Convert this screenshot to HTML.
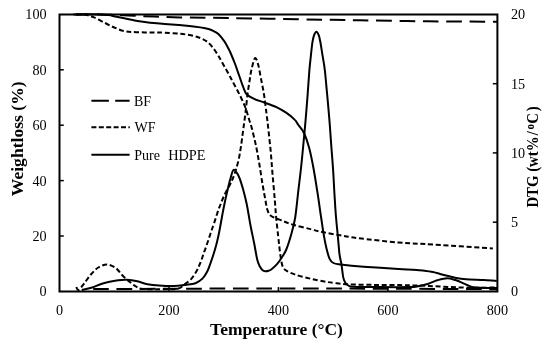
<!DOCTYPE html>
<html><head><meta charset="utf-8"><title>TGA DTG chart</title>
<style>html,body{margin:0;padding:0;background:#fff}body{width:550px;height:347px;position:relative;overflow:hidden}</style>
</head><body>
<svg width="550" height="347" viewBox="0 0 550 347" style="position:absolute;left:0;top:0">
<g fill="none" stroke="#000" stroke-linejoin="round">
<path d="M73.5 14.4C77.9 14.4 93.0 14.3 100.0 14.4C107.0 14.5 109.9 14.7 115.7 14.9C121.5 15.1 128.6 15.5 135.0 15.8C141.4 16.1 146.8 16.3 154.3 16.6C161.8 16.9 167.4 17.1 180.0 17.4C192.6 17.6 210.0 17.8 230.0 18.1C250.0 18.4 278.3 18.9 300.0 19.3C321.7 19.7 338.7 20.0 360.0 20.3C381.3 20.6 405.2 21.1 428.0 21.3C450.8 21.5 485.5 21.6 497.0 21.7" stroke-width="2" stroke-dasharray="15.6 7.7"/>
<path d="M93.2 289.0C99.3 289.0 115.5 289.1 130.0 289.0C144.5 288.9 151.7 288.8 180.0 288.7C208.3 288.6 263.3 288.5 300.0 288.5C336.7 288.5 367.2 288.7 400.0 288.8C432.8 288.9 480.8 289.1 497.0 289.2" stroke-width="2" stroke-dasharray="15.6 7.7"/>
<path d="M76.0 14.4C77.2 14.4 81.5 14.3 83.5 14.5C85.5 14.7 86.3 14.9 88.0 15.4C89.7 15.9 91.2 16.2 93.9 17.4C96.6 18.6 100.7 20.8 104.1 22.5C107.5 24.2 110.9 26.1 114.3 27.5C117.7 28.9 120.9 30.4 124.5 31.2C128.1 32.0 131.1 32.0 136.1 32.2C141.1 32.4 149.6 32.4 154.3 32.5C159.0 32.6 160.4 32.5 164.5 32.7C168.6 32.9 174.7 33.3 179.1 33.7C183.5 34.1 187.3 34.6 190.7 35.3C194.1 36.0 196.8 36.7 199.5 37.7C202.2 38.7 204.5 39.8 206.7 41.4C208.9 43.0 210.7 45.0 212.5 47.2C214.3 49.4 216.0 52.1 217.6 54.5C219.2 56.9 219.9 58.4 221.8 61.8C223.7 65.2 227.4 71.8 229.1 74.9C230.8 78.0 230.3 77.0 232.0 80.3C233.7 83.6 237.3 90.0 239.5 94.5C241.7 99.0 243.8 103.5 245.4 107.6C247.0 111.7 248.0 116.1 249.0 119.3C250.0 122.5 250.3 122.4 251.5 127.0C252.7 131.6 254.9 140.5 256.2 146.8C257.5 153.1 258.4 158.7 259.5 165.0C260.6 171.3 261.6 178.9 262.6 184.7C263.6 190.5 264.6 195.8 265.4 200.0C266.2 204.2 266.5 207.5 267.5 210.2C268.5 212.9 268.9 214.3 271.2 216.0C273.5 217.7 277.8 219.0 281.4 220.4C285.0 221.8 288.1 223.2 293.0 224.7C297.9 226.1 305.4 227.8 310.5 229.1C315.6 230.4 318.6 231.3 323.5 232.3C328.4 233.3 334.5 234.3 340.2 235.3C345.9 236.3 348.2 236.9 357.9 238.1C367.6 239.3 385.9 241.4 398.6 242.5C411.3 243.6 418.6 243.6 434.3 244.6C450.0 245.6 483.1 247.8 492.8 248.4" stroke-width="2" stroke-dasharray="5 2.7"/>
<path d="M76.0 285.6C76.4 286.3 77.0 290.5 78.5 290.0C80.0 289.5 82.6 285.4 84.7 282.7C86.8 280.0 89.0 276.5 91.3 274.0C93.6 271.5 95.6 269.1 98.3 267.5C101.0 265.9 104.2 264.4 107.2 264.5C110.2 264.6 113.5 266.4 116.0 268.2C118.5 270.0 120.2 273.2 122.5 275.5C124.8 277.8 127.6 280.2 129.8 282.0C132.0 283.8 133.8 285.3 135.8 286.4C137.8 287.5 137.6 288.3 141.6 288.8C145.6 289.3 153.9 289.2 160.0 289.2C166.1 289.2 174.0 289.3 178.0 288.6C182.0 287.9 181.6 286.5 183.8 284.9C186.0 283.3 188.9 281.5 191.1 279.1C193.3 276.7 195.3 273.2 196.9 270.4C198.5 267.6 199.4 265.1 200.5 262.5C201.6 259.9 202.4 257.1 203.3 254.5C204.2 251.9 205.1 249.7 206.0 247.0C206.9 244.3 208.0 241.2 208.9 238.5C209.8 235.8 210.5 233.5 211.3 231.0C212.2 228.5 212.8 227.1 214.0 223.5C215.2 219.9 217.4 212.7 218.5 209.5C219.6 206.3 219.6 206.8 220.5 204.5C221.4 202.2 222.6 198.8 224.2 195.5C225.8 192.2 228.4 187.6 229.9 184.7C231.4 181.8 232.0 180.4 233.0 178.0C234.0 175.6 234.8 173.2 235.7 170.2C236.6 167.2 237.7 163.9 238.6 160.0C239.5 156.1 240.1 151.8 240.9 146.8C241.7 141.8 242.4 135.6 243.2 130.0C243.9 124.5 244.7 119.4 245.4 113.5C246.1 107.6 246.8 100.1 247.5 94.5C248.2 88.9 249.0 84.2 249.7 80.0C250.4 75.8 250.7 72.7 251.6 69.1C252.5 65.5 253.9 58.9 255.0 58.2C256.1 57.5 257.2 61.2 258.2 64.7C259.2 68.2 260.1 74.3 261.1 79.3C262.1 84.3 263.1 88.8 264.0 94.5C264.9 100.2 265.8 108.1 266.5 113.5C267.2 118.9 267.4 120.7 268.1 127.0C268.8 133.3 269.9 143.2 270.7 151.2C271.4 159.2 271.9 166.9 272.6 175.0C273.3 183.1 274.2 192.7 274.8 200.0C275.4 207.3 275.7 212.8 276.3 218.9C276.9 225.0 277.7 231.7 278.2 236.4C278.7 241.1 279.0 243.6 279.4 247.0C279.8 250.4 280.0 253.3 280.6 256.6C281.2 259.9 281.7 264.4 282.8 266.8C283.9 269.2 285.0 269.9 287.2 271.2C289.4 272.5 292.0 273.6 295.9 274.8C299.8 276.1 305.8 277.6 310.5 278.7C315.2 279.8 320.3 280.8 324.3 281.5C328.3 282.2 330.4 282.5 334.5 283.0C338.6 283.5 342.4 284.1 349.1 284.4C355.9 284.7 366.5 284.8 375.0 284.9C383.5 285.0 392.5 285.0 400.0 285.1C407.5 285.2 413.3 285.4 420.0 285.6C426.7 285.8 433.3 286.2 440.0 286.5C446.7 286.8 453.3 287.3 460.0 287.5C466.7 287.7 473.8 287.7 480.0 287.7C486.2 287.7 494.2 287.5 497.0 287.5" stroke-width="2" stroke-dasharray="5 2.7" stroke-dashoffset="6.3"/>
<path d="M76.0 14.4C80.0 14.4 94.6 14.3 100.0 14.4C105.4 14.5 106.0 14.8 108.5 15.1C111.0 15.4 112.6 15.9 115.0 16.4C117.4 16.9 119.2 17.3 123.0 18.1C126.8 18.9 133.0 20.2 137.5 21.0C142.0 21.8 145.5 22.2 150.0 22.7C154.5 23.2 159.7 23.5 164.5 23.9C169.3 24.3 174.2 24.7 179.1 25.1C183.9 25.5 189.2 26.0 193.6 26.5C198.0 27.0 202.2 27.6 205.3 28.3C208.5 29.0 210.3 29.5 212.5 30.5C214.7 31.5 216.5 32.3 218.4 34.1C220.3 35.9 222.7 39.1 224.2 41.2C225.7 43.3 226.4 44.8 227.5 46.8C228.6 48.8 229.4 50.2 230.6 53.0C231.8 55.8 233.4 59.7 234.9 63.5C236.4 67.3 237.9 72.1 239.3 76.0C240.7 79.9 241.9 83.9 243.2 87.0C244.4 90.1 245.0 92.5 246.8 94.5C248.6 96.5 251.2 97.6 254.1 98.9C257.0 100.2 260.7 101.2 264.3 102.5C267.9 103.8 272.3 105.2 275.9 106.9C279.5 108.6 283.0 110.6 286.1 112.7C289.2 114.8 292.6 117.5 294.6 119.6C296.7 121.6 296.8 122.7 298.4 125.0C300.0 127.3 302.3 129.4 304.1 133.2C305.9 137.0 307.6 141.9 309.2 148.0C310.8 154.1 312.4 162.2 313.8 170.0C315.2 177.8 316.6 187.0 317.8 194.7C319.0 202.4 319.9 209.5 320.9 216.0C321.9 222.5 322.7 228.5 323.6 233.9C324.5 239.3 325.5 244.4 326.5 248.5C327.5 252.6 328.4 256.2 329.5 258.6C330.6 261.0 331.6 262.0 333.4 263.0C335.2 264.0 335.4 263.9 340.4 264.5C345.4 265.1 353.9 266.0 363.6 266.7C373.3 267.4 389.7 268.3 398.6 268.9C407.5 269.5 411.3 269.6 416.8 270.1C422.3 270.6 426.5 270.9 431.4 271.8C436.2 272.7 441.8 274.5 445.9 275.5C450.0 276.5 452.8 277.3 456.1 277.9C459.5 278.5 461.4 278.8 466.0 279.2C470.6 279.6 478.5 279.7 483.6 280.0C488.7 280.3 494.5 280.8 496.7 280.9" stroke-width="2"/>
<path d="M81.8 290.0C83.4 289.6 87.7 288.9 91.3 287.8C94.9 286.7 99.1 284.4 103.6 283.2C108.1 281.9 114.3 280.9 118.2 280.3C122.1 279.7 123.7 279.6 126.9 279.8C130.1 280.0 133.9 280.6 137.3 281.3C140.7 282.0 143.9 283.5 147.5 284.2C151.1 284.9 154.8 285.3 159.1 285.6C163.4 285.9 169.2 286.2 173.6 286.1C178.0 286.0 181.7 285.4 185.3 284.9C189.0 284.4 192.6 284.3 195.5 283.2C198.4 282.1 200.8 280.3 202.7 278.4C204.6 276.5 205.9 274.1 207.1 271.8C208.3 269.5 209.0 267.3 210.0 264.5C211.0 261.7 212.2 258.4 213.3 255.0C214.4 251.6 215.5 247.8 216.5 244.0C217.5 240.2 218.4 236.0 219.2 232.0C220.0 228.0 220.6 224.6 221.4 220.0C222.2 215.4 223.3 209.4 224.3 204.7C225.3 200.0 226.2 195.8 227.2 191.6C228.2 187.4 229.1 183.1 230.2 179.5C231.3 175.9 232.2 170.4 233.6 169.8C235.0 169.2 237.0 172.8 238.6 176.0C240.2 179.2 241.7 184.4 243.0 189.1C244.3 193.8 245.4 197.8 246.7 204.0C248.0 210.2 249.3 219.3 250.6 226.0C251.9 232.7 253.2 238.4 254.3 244.0C255.4 249.6 256.3 255.8 257.2 259.5C258.1 263.2 258.8 264.3 259.6 266.0C260.5 267.7 261.3 269.0 262.3 269.9C263.3 270.8 264.4 271.1 265.4 271.3C266.4 271.5 267.5 271.2 268.5 270.8C269.5 270.4 270.2 270.3 271.6 269.2C273.0 268.1 275.2 266.2 277.0 264.2C278.8 262.2 280.6 259.4 282.1 257.0C283.7 254.6 284.7 253.4 286.3 249.5C287.9 245.6 290.0 238.8 291.5 233.5C293.0 228.2 294.1 224.4 295.2 217.5C296.3 210.6 297.3 199.7 298.2 191.8C299.1 183.9 299.9 177.8 300.8 170.0C301.7 162.2 302.5 153.3 303.3 145.0C304.1 136.7 304.9 128.3 305.6 120.0C306.3 111.7 307.0 103.3 307.6 95.0C308.2 86.7 308.9 76.4 309.4 70.0C309.9 63.6 310.3 61.1 310.8 56.4C311.3 51.7 311.9 45.3 312.5 41.8C313.1 38.3 313.5 36.9 314.1 35.2C314.8 33.5 315.6 31.8 316.4 31.8C317.2 31.8 318.0 33.5 318.7 35.2C319.4 36.9 319.6 38.3 320.3 41.8C321.0 45.3 321.9 51.7 322.7 56.4C323.4 61.1 324.1 63.6 324.8 70.0C325.6 76.4 326.4 86.7 327.2 95.0C328.0 103.3 328.7 111.7 329.4 120.0C330.1 128.3 330.6 136.4 331.2 144.7C331.8 153.0 332.6 161.7 333.1 170.0C333.7 178.3 334.0 186.9 334.5 194.7C335.0 202.5 335.4 210.0 336.0 217.0C336.6 224.0 337.3 230.5 337.9 236.8C338.5 243.1 339.0 250.4 339.6 255.0C340.2 259.6 340.9 260.7 341.5 264.5C342.1 268.3 342.6 274.5 343.3 277.6C344.0 280.7 344.6 281.7 345.5 283.0C346.4 284.3 347.1 285.0 348.5 285.6C349.9 286.2 348.8 286.6 354.0 286.8C359.2 287.1 370.7 287.1 380.0 287.1C389.3 287.2 403.9 287.2 410.0 287.1C416.1 287.0 413.7 287.1 416.8 286.5C419.9 285.9 425.1 284.7 428.5 283.7C431.9 282.7 434.1 281.2 437.2 280.3C440.3 279.4 444.2 278.2 447.4 278.2C450.5 278.2 453.7 279.6 456.1 280.3C458.5 281.0 460.0 281.8 461.8 282.6C463.6 283.4 465.3 284.3 467.0 285.0C468.7 285.7 469.8 286.5 472.0 287.0C474.2 287.5 475.8 287.6 480.0 287.8C484.2 288.0 494.2 288.0 497.0 288.0" stroke-width="2"/>
<path d="M91.4 100.7H129.6" stroke-width="2" stroke-dasharray="17.5 6.3 14.4 99"/>
<path d="M91.4 127.3H129.8" stroke-width="2" stroke-dasharray="5 2.4"/>
<path d="M91.4 154.8H129.6" stroke-width="2"/>
</g>
<g fill="none" stroke="#000" stroke-width="2">
<path d="M59.5 14.4V291.4H497.4V14.4Z"/>
</g><g fill="none" stroke="#000" stroke-width="1.5">
<path d="M59.5 69.8h4.3"/>
<path d="M59.5 125.2h4.3"/>
<path d="M59.5 180.6h4.3"/>
<path d="M59.5 236.0h4.3"/>
<path d="M497.4 83.7h-4.6"/>
<path d="M497.4 152.9h-4.6"/>
<path d="M497.4 222.2h-4.6"/>
<path d="M169.0 291.4v-4.3"/>
<path d="M278.4 291.4v-4.3"/>
<path d="M387.9 291.4v-4.3"/>
</g>
<g font-family="'Liberation Serif',serif" font-size="14.2" fill="#000">
<text x="46.6" y="19.4" text-anchor="end">100</text>
<text x="46.6" y="74.8" text-anchor="end">80</text>
<text x="46.6" y="130.2" text-anchor="end">60</text>
<text x="46.6" y="185.6" text-anchor="end">40</text>
<text x="46.6" y="241.0" text-anchor="end">20</text>
<text x="46.6" y="296.4" text-anchor="end">0</text>
<text x="511" y="19.4">20</text>
<text x="511" y="88.7">15</text>
<text x="511" y="157.9">10</text>
<text x="511" y="227.2">5</text>
<text x="511" y="296.4">0</text>
<text x="59.5" y="314.7" text-anchor="middle">0</text>
<text x="169.0" y="314.7" text-anchor="middle">200</text>
<text x="278.4" y="314.7" text-anchor="middle">400</text>
<text x="387.9" y="314.7" text-anchor="middle">600</text>
<text x="497.4" y="314.7" text-anchor="middle">800</text>
<text x="134" y="105.5" font-size="14">BF</text>
<text x="134.5" y="132.2" font-size="14">WF</text>
<text x="134.3" y="160.2" font-size="14" xml:space="preserve">Pure  <tspan x="168.2" font-size="14.3">HDPE</tspan></text>
</g>
<g font-family="'Liberation Serif',serif" font-weight="bold" fill="#000">
<text x="276.5" y="334.6" font-size="17.5" text-anchor="middle">Temperature (°C)</text>
<text transform="translate(23 138.8) rotate(-90)" font-size="17.6" text-anchor="middle">Weightloss (%)</text>
<text transform="translate(538 156.9) rotate(-90) scale(1 1.06)" font-size="14.8" text-anchor="middle">DTG (wt%<tspan dx="1.2">/</tspan><tspan font-size="11" dy="-4.2" dx="1.6">o</tspan><tspan dy="4.2" dx="0.4">C</tspan><tspan dx="1.8">)</tspan></text>
</g>
</svg>
</body></html>
